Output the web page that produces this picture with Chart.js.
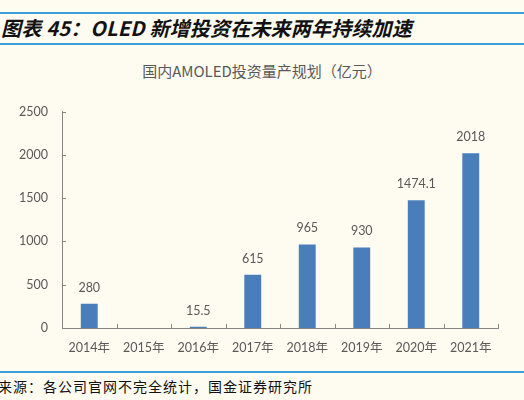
<!DOCTYPE html>
<html>
<head>
<meta charset="utf-8">
<script src="https://cdn.jsdelivr.net/npm/chart.js@4/dist/chart.umd.min.js"></script>
<style>
  body { margin: 0; background: #fefbf1; width: 524px; height: 400px; overflow: hidden; position: relative; font-family: "Noto Sans CJK SC", sans-serif; }
  .rule { position: absolute; left: 0; width: 524px; height: 2px; background: #3e9ed8; }
  #head { position: absolute; left: 1px; top: 15px; font-size: 20px; font-weight: bold; font-style: italic; color: #111; letter-spacing: 0.2px; line-height: 26px; white-space: nowrap; }
  #sub { position: absolute; left: 0; width: 524px; top: 61px; text-align: center; font-size: 15px; color: #595959; line-height: 20px; }
  #foot { position: absolute; left: -2px; top: 377px; font-size: 14px; color: #111; letter-spacing: 1px; line-height: 18px; white-space: nowrap; }
  #wrap { position: absolute; left: 0; top: 90px; width: 524px; height: 275px; }
</style>
</head>
<body>
<div class="rule" style="top:12px"></div>
<div id="head">图表 45：OLED 新增投资在未来两年持续加速</div>
<div class="rule" style="top:43px"></div>
<div id="sub">国内AMOLED投资量产规划（亿元）</div>
<div id="wrap"><canvas id="chart"></canvas></div>
<div class="rule" style="top:371px"></div>
<div id="foot">来源：各公司官网不完全统计，国金证券研究所</div>

<script>
"use strict";

const years = ["2014年", "2015年", "2016年", "2017年", "2018年", "2019年", "2020年", "2021年"];
const invest = [280, null, 15.5, 615, 965, 930, 1474.1, 2018];
const yTicks = [0, 500, 1000, 1500, 2000, 2500];

const axisColor = "#868686";
const textColor = "#595959";
const labelFont = "12.5px Lato, 'Noto Sans CJK SC', sans-serif";

// short tick marks pointing into the plot + value labels over the bars
const marksPlugin = {
  id: "marks",
  afterDatasetsDraw(chart) {
    const ctx = chart.ctx;
    const x = chart.scales.x;
    const y = chart.scales.y;
    const area = chart.chartArea;
    ctx.save();
    ctx.strokeStyle = axisColor;
    ctx.lineWidth = 1;
    ctx.beginPath();
    for (let i = 0; i < yTicks.length; i++) {
      const py = Math.round(y.getPixelForValue(yTicks[i])) + 0.5;
      ctx.moveTo(area.left, py);
      ctx.lineTo(area.left + 4, py);
    }
    const step = (x.getPixelForValue(1) - x.getPixelForValue(0));
    for (let i = 0; i <= years.length; i++) {
      const px = Math.round(x.getPixelForValue(i) - step / 2) + 0.5;
      ctx.moveTo(px, area.bottom);
      ctx.lineTo(px, area.bottom - 4);
    }
    ctx.stroke();

    ctx.fillStyle = textColor;
    ctx.font = labelFont;
    ctx.textAlign = "center";
    ctx.textBaseline = "middle";
    const meta = chart.getDatasetMeta(0);
    meta.data.forEach(function (bar, i) {
      if (invest[i] === null) return;
      ctx.fillText(String(invest[i]), bar.x, bar.y - 16);
    });
    ctx.restore();
  }
};

const data = {
  labels: years,
  datasets: [
    {
      label: "投资",
      data: invest,
      backgroundColor: "#4a7ebb",
      barPercentage: 0.62,
      categoryPercentage: 0.5,
    },
  ],
};

const config = {
  type: "bar",
  data: data,
  options: {
    responsive: true,
    maintainAspectRatio: false,
    animation: false,
    layout: { padding: { top: 17, right: 26, left: 0, bottom: 0 } },
    plugins: { legend: { display: false }, tooltip: { enabled: false } },
    scales: {
      x: {
        grid: { display: false, drawTicks: false },
        border: { display: true, color: axisColor, width: 1 },
        ticks: { color: textColor, font: { family: "Lato, 'Noto Sans CJK SC', sans-serif", size: 12.5 }, padding: 12, maxRotation: 0 },
        afterFit(scale) { scale.height = 37; },
      },
      y: {
        min: 0,
        max: 2500,
        afterBuildTicks(scale) { scale.ticks = yTicks.map(v => ({ value: v })); },
        grid: { display: false, drawTicks: false },
        border: { display: true, color: axisColor, width: 1 },
        ticks: { color: textColor, font: { family: "Lato, sans-serif", size: 12.5 }, padding: 14, callback: v => String(v) },
        afterFit(scale) { scale.width = 62; },
      },
    },
  },
  plugins: [marksPlugin],
};

const myChart = new Chart(document.getElementById("chart"), config);
</script>
</body>
</html>
